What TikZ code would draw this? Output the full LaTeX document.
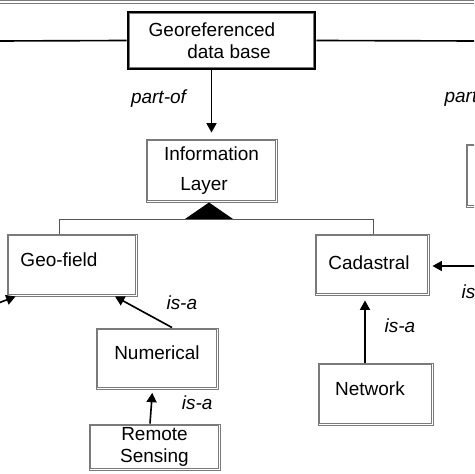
\documentclass[tikz,border=0pt]{standalone}
\usepackage{fontspec}
\setmainfont{Liberation Sans}
\usepackage{tikz}
\usetikzlibrary{positioning, arrows.meta}
\definecolor{framegray}{HTML}{7A7A7A}
\definecolor{linkgray}{HTML}{555555}
\tikzstyle{entity} = [rectangle, draw=framegray, line width=0.8pt, inner sep=0pt, align=center, font=\fontsize{16.2}{19}\selectfont]
\tikzstyle{rootentity} = [rectangle, draw=black, line width=2.2pt, inner sep=0pt, align=center, font=\fontsize{16.2}{19}\selectfont]
\tikzstyle{raised} = [text depth=10pt]
\tikzstyle{relation} = [inner sep=2pt, font=\fontsize{16.2}{19}\selectfont\itshape]
\tikzstyle{arrow} = [line width=1.4pt, -{Triangle[width=8.5pt,length=8pt]}]
\tikzstyle{partline} = [line width=1.4pt]
\tikzstyle{link} = [line width=0.8pt, draw=linkgray]
\tikzstyle{innerline} = [draw=framegray, line width=0.8pt]
\newcommand{\innerframe}[2]{\draw [innerline] ([shift={(#2,-#2)}]#1.north west) rectangle ([shift={(-#2,#2)}]#1.south east);}

\begin{document}
\begin{tikzpicture}[x=0.03cm, y=-0.03cm]
    \useasboundingbox (0,0) rectangle (474,474);
    \clip (0,0) rectangle (474,474);
    \node (1) [rootentity, minimum width=5.61cm, minimum height=1.71cm] at (221.5,40.5)
      {Georeferenced\hspace*{0.57cm}\\\hspace*{0.45cm}data base};
    \node (2) [entity, minimum width=3.93cm, minimum height=1.89cm] at (211.5,170.5)
      {Information\\[7pt]Layer\hspace*{0.45cm}};
    \node (3) [entity, raised, minimum width=3.9cm, minimum height=1.86cm] at (72,265)
      {Geo-field\hspace*{0.78cm}};
    \node (4) [entity, text depth=4pt, minimum width=3.42cm, minimum height=1.83cm] at (372,264.5)
      {Cadastral\hspace*{0.18cm}};
    \node (5) [entity, raised, minimum width=3.66cm, minimum height=1.83cm] at (157,358.5)
      {Numerical};
    \node (6) [entity, minimum width=3.93cm, minimum height=1.38cm] at (154.5,447)
      {Remote\\Sensing};
    \node (7) [entity, raised, minimum width=3.45cm, minimum height=1.86cm] at (375.5,394)
      {Network\hspace*{0.33cm}};
    \node (8) [entity, minimum width=3.9cm, minimum height=1.89cm] at (531,175.5) {};
    \innerframe{1}{2.5pt}
    \foreach \n in {2,...,8} {\innerframe{\n}{2pt}}
    % part-of links leaving the data base
    \coordinate (dbl) at (-5,41);
    \coordinate (dbr) at (480,41);
    \draw [partline] (dbl) -- (1.west);
    \draw [partline] (1.east) -- (dbr);
    \draw [innerline] (-5,0.8) -- (480,0.8);
    \draw [innerline] (-5,3.8) -- (480,3.8);
    \draw [arrow, shorten >=0.18cm] (1.south -| 2.north) -- node[relation, midway, xshift=-1.59cm, yshift=0.18cm] (po1) {part-of} (2.north);
    \node (po2) [relation, anchor=west] at (442,98) {part-of};
    % generalisation
    \coordinate (fork) at (209,219);
    \coordinate (lfork) at (59,219);
    \coordinate (rfork) at (373,219);
    \fill (fork |- 2.south) -- ([xshift=0.72cm]fork) -- ([xshift=-0.72cm]fork) -- cycle;
    \draw [link] (lfork |- 3.north) -- (lfork) -- (rfork) -- (rfork |- 4.north);
    % is-a links
    \draw [arrow] ([xshift=0.45cm]5.north) -- node[relation, midway, xshift=1.15cm, yshift=0.28cm] (isa1) {is-a} ([xshift=1.29cm]3.south);
    \draw [arrow, shorten >=0.1cm] ([xshift=-0.135cm]6.north) -- node[relation, midway, xshift=1.38cm, yshift=0.1cm] (isa2) {is-a} ([xshift=-0.135cm]5.south);
    \draw [arrow, shorten >=0.15cm] ([xshift=-0.315cm]7.north) -- node[relation, midway, xshift=1.05cm, yshift=0.09cm] (isa3) {is-a} ([xshift=-0.315cm]7.north |- 4.south);
    \coordinate (rin) at (490,266);
    \draw [arrow, shorten >=0.09cm] (rin) -- (rin -| 4.east);
    \node (isa4) [relation, anchor=west] at (459,292) {is-a};
    \coordinate (lin) at (-25,312);
    \draw [arrow] (lin) -- ([xshift=0.27cm]3.south west);
  \end{tikzpicture}
\end{document}
